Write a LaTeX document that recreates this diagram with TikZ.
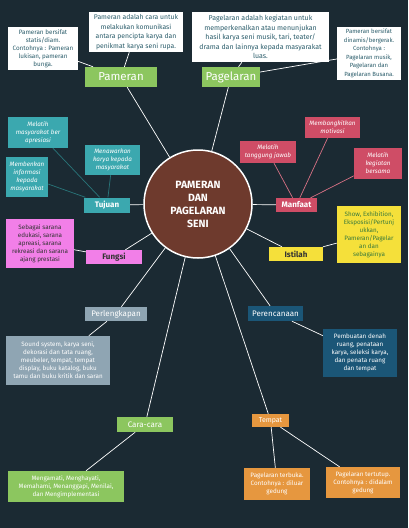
\documentclass[tikz,border=0pt]{standalone}
\usepackage{fontspec}
\setmainfont{Fira Sans}
\usetikzlibrary{positioning}
\definecolor{bgcol}{HTML}{1B2A33}
\definecolor{hijau}{HTML}{8CC65F}
\definecolor{tosca}{HTML}{3BA8AF}
\definecolor{merah}{HTML}{CF4D66}
\definecolor{kuning}{HTML}{F5E03A}
\definecolor{biru}{HTML}{1B5677}
\definecolor{oranye}{HTML}{E6973F}
\definecolor{ungu}{HTML}{F27FE8}
\definecolor{abu}{HTML}{8FA5B3}
\definecolor{coklat}{HTML}{6E3A2D}
\definecolor{tekstosca}{HTML}{2B5D6B}
\definecolor{tekshijau}{HTML}{3B7A3A}
\newcommand\kecil{\fontsize{6.3}{8}\selectfont}
\tikzset{
  kotak/.style={rectangle,inner sep=1pt,align=center,font=\kecil},
  judul/.style={rectangle,inner sep=1pt,align=center,text=white,font=\fontsize{8}{9}\selectfont\bfseries},
  garis/.style={white,line width=0.7pt},
}
\begin{document}
\begin{tikzpicture}[x=1pt,y=-1pt]
\fill[bgcol] (0,0) rectangle (408,528);
\useasboundingbox (0,0) rectangle (408,528);
% pusat
\node[circle,draw=white,line width=1.5pt,fill=coklat,minimum size=108pt,align=center,text=white,
  font=\fontsize{10.5}{13}\selectfont\bfseries] (pusat) at (198,204) {PAMERAN\\DAN\\PAGELARAN\\SENI};
% pameran
\node[judul,fill=hijau,minimum width=72pt,minimum height=20pt,font=\fontsize{11.5}{13}\selectfont] (pameran) at (121,77) {Pameran};
\node[kotak,fill=white,text=tekstosca,minimum width=94pt,minimum height=40pt,font=\fontsize{6.8}{9.5}\selectfont] (pamdef) at (136,32)
  {Pameran adalah cara untuk\\melakukan komunikasi\\antara pencipta karya dan\\penikmat karya seni rupa.};
\node[kotak,fill=white,text=tekstosca,minimum width=70pt,minimum height=43pt] (pamsifat) at (43,48.5)
  {Pameran bersifat\\statis/diam.\\Contohnya : Pameran\\lukisan, pameran\\bunga.};
% pagelaran
\node[judul,fill=hijau,minimum width=58pt,minimum height=20pt,font=\fontsize{11.5}{13}\selectfont] (pagelaran) at (231,77) {Pagelaran};
\node[kotak,fill=white,text=tekstosca,minimum width=137pt,minimum height=50pt,font=\fontsize{7}{9.5}\selectfont] (pagdef) at (260.5,37)
  {Pagelaran adalah kegiatan untuk\\memperkenalkan atau menunjukan\\hasil karya seni  musik, tari, teater/\\drama dan lainnya kepada masyarakat\\luas.};
\node[kotak,fill=white,text=tekstosca,minimum width=64pt,minimum height=53pt,font=\fontsize{6}{8.5}\selectfont] (pagsifat) at (369,53.5)
  {Pameran bersifat\\dinamis/bergerak.\\Contohnya :\\Pagelaran musik,\\Pagelaran dan\\Pagelaran Busana.};
% tujuan
\node[judul,fill=tosca,minimum width=46pt,minimum height=15pt] (tujuan) at (107,205) {Tujuan};
\node[kotak,fill=tosca,text=white,minimum width=60pt,minimum height=31pt,font=\kecil\itshape] (tj1) at (38,132.5) {Melatih\\masyarakat ber\\apresiasi};
\node[kotak,fill=tosca,text=white,minimum width=42pt,minimum height=40pt,font=\kecil\itshape] (tj2) at (27,176.5) {Membenkan\\informasi\\kepada\\masyarakat};
\node[kotak,fill=tosca,text=white,minimum width=55pt,minimum height=30pt,font=\kecil\itshape] (tj3) at (112.5,160) {Menawarkan\\karya kepada\\masyarakat};
% manfaat
\node[judul,fill=merah,minimum width=41pt,minimum height=14pt] (manfaat) at (296.5,205) {Manfaat};
\node[kotak,fill=merah,text=white,minimum width=56pt,minimum height=22pt,font=\kecil\itshape] (mf1) at (268,152) {Melatih\\tanggung jawab};
\node[kotak,fill=merah,text=white,minimum width=55pt,minimum height=21pt,font=\kecil\itshape] (mf2) at (332.5,127.5) {Membangkitkan\\motivasi};
\node[kotak,fill=merah,text=white,minimum width=48pt,minimum height=31pt,font=\kecil\itshape] (mf3) at (378,163.5) {Melatih\\kegiatan\\bersama};
% istilah
\node[judul,fill=kuning,text=black!80,minimum width=54pt,minimum height=14pt] (istilah) at (296,254) {Istilah};
\node[kotak,fill=kuning,text=tekshijau,minimum width=64pt,minimum height=57pt] (istbox) at (369,234.5)
  {Show, Exhibition,\\Eksposisi/Pertunj\\ukkan,\\Pameran/Pagelar\\an dan\\sebagainya};
% fungsi
\node[judul,fill=ungu,text=black!80,minimum width=56pt,minimum height=14pt] (fungsi) at (114,257) {Fungsi};
\node[kotak,fill=ungu,text=black!80,minimum width=68pt,minimum height=49pt] (fgbox) at (40,243.5)
  {Sebagai sarana\\edukasi, sarana\\apreasi, sarana\\rekreasi dan sarana\\ajang prestasi};
% perlengkapan
\node[judul,fill=abu,minimum width=62pt,minimum height=14pt,font=\fontsize{8}{9}\selectfont] (perl) at (116,314) {Perlengkapan};
\node[kotak,fill=abu,text=white,minimum width=104pt,minimum height=49pt] (perlbox) at (58,360.5)
  {Sound system, karya seni,\\dekorasi dan tata ruang,\\meubeler, tempat, tempat\\display, buku katalog, buku\\tamu dan buku kritik dan saran};
% perencanaan
\node[judul,fill=biru,minimum width=55pt,minimum height=15pt,font=\fontsize{8}{9}\selectfont] (renc) at (275.5,313.5) {Perencanaan};
\node[kotak,fill=biru,text=white,minimum width=74pt,minimum height=48pt] (rencbox) at (360,353)
  {Pembuatan denah\\ruang, penataan\\karya, seleksi karya,\\dan penata ruang\\dan tempat};
% cara-cara
\node[judul,fill=hijau,minimum width=56pt,minimum height=15pt,font=\fontsize{8}{9}\selectfont] (cara) at (145,424.5) {Cara-cara};
\node[kotak,fill=hijau,text=white,minimum width=116pt,minimum height=31pt] (carabox) at (66,486.5)
  {Mengamati, Menghayati,\\Memahami, Menanggapi, Menilai,\\dan Mengimplementasi};
% tempat
\node[judul,fill=oranye,minimum width=37pt,minimum height=13pt,font=\fontsize{7}{8}\selectfont] (tempat) at (270.5,420.5) {Tempat};
\node[kotak,fill=oranye,text=white,minimum width=66pt,minimum height=32pt] (tp1) at (277,484) {Pagelaran terbuka.\\Contohnya :  diluar\\gedung};
\node[kotak,fill=oranye,text=white,minimum width=74pt,minimum height=31pt] (tp2) at (363,482.5) {Pagelaran tertutup.\\Contohnya : didalam\\gedung};
% garis
\foreach \a/\b in {pusat/pameran,pusat/pagelaran,pusat/tujuan,pusat/manfaat,pusat/istilah,pusat/fungsi,
  pusat/perl,pusat/renc,pusat/cara,pusat/tempat,pameran/pamdef,pameran/pamsifat,pagelaran/pagdef,
  pagelaran/pagsifat,istilah/istbox,fungsi/fgbox,perl/perlbox,renc/rencbox,cara/carabox,tempat/tp1,tempat/tp2}
  \draw[garis] (\a) -- (\b);
\foreach \b in {tj1,tj2,tj3}
  \draw[tosca!70!black,line width=0.7pt] (tujuan) -- (\b);
\foreach \b in {mf1,mf2,mf3}
  \draw[merah!80!white,line width=0.7pt] (manfaat) -- (\b);
\end{tikzpicture}
\end{document}
